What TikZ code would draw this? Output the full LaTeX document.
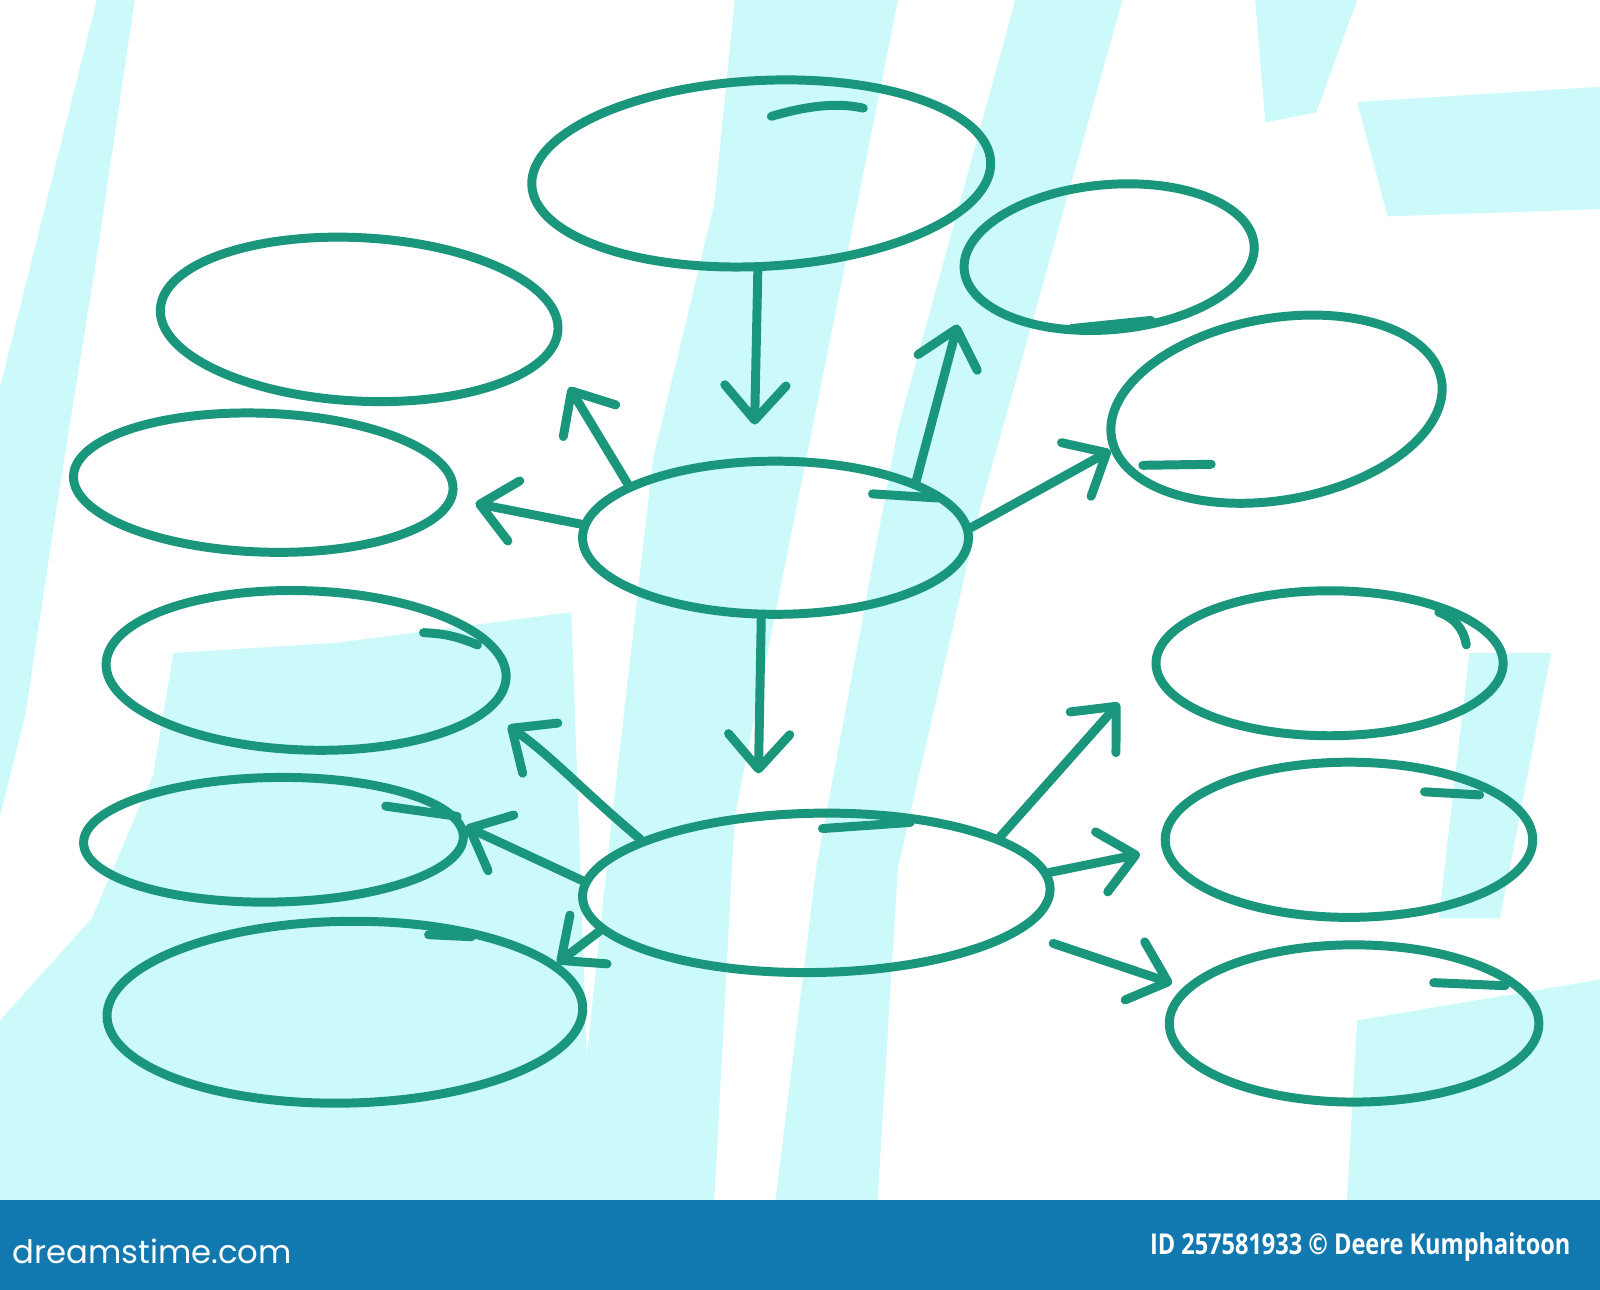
\documentclass[tikz,border=0pt]{standalone}
\usepackage{fontspec}
\usetikzlibrary{shapes.geometric, arrows.meta}
\newfontfamily\logofont{Poppins}
\newfontfamily\idfont[FakeStretch=0.82]{Open Sans}

\definecolor{penteal}{RGB}{26,150,125}
\definecolor{washcyan}{RGB}{204,250,250}
\definecolor{bannerblue}{RGB}{17,120,176}

\tikzset{
    bubble/.style={draw=penteal, line width=2.5pt, ellipse, inner sep=0pt},
    link/.style={draw=penteal, line width=2.5pt, line cap=round, line join=round,
        -{Straight Barb[length=3.4mm, width=6mm, round]}},
    tail/.style={draw=penteal, line width=2.5pt, line cap=round},
}

\begin{document}
\begin{tikzpicture}[x=0.01cm, y=-0.01cm]
    \useasboundingbox (0,0) rectangle (1568,1264);
    \fill[white] (0,0) rectangle (1568,1264);

    % brush washes behind the map
    \fill[washcyan] (95,0) -- (132,0) -- (95,250) -- (55,500) -- (25,700) -- (0,800) -- (0,380) -- cycle;
    \fill[washcyan] (170,640) -- (330,630) -- (560,600) -- (580,1176) -- (0,1176) -- (0,1000) -- (90,900) -- (150,760) -- cycle;
    \fill[washcyan] (720,0) -- (880,0) -- (800,400) -- (720,800) -- (700,1176) -- (560,1176) -- (600,800) -- (640,450) -- (700,200) -- cycle;
    \fill[washcyan] (995,0) -- (1100,0) -- (960,500) -- (880,850) -- (860,1176) -- (760,1176) -- (800,850) -- (880,420) -- cycle;
    \fill[washcyan] (1230,0) -- (1330,0) -- (1290,110) -- (1240,120) -- cycle;
    \fill[washcyan] (1330,100) -- (1568,85) -- (1568,205) -- (1360,212) -- cycle;
    \fill[washcyan] (1440,640) -- (1520,640) -- (1470,900) -- (1410,900) -- cycle;
    \fill[washcyan] (1330,1000) -- (1568,960) -- (1568,1176) -- (1320,1176) -- cycle;

    % ellipses
    \node[bubble, minimum width=4.5cm, minimum height=1.82cm, rotate=3] (root) at (746,170) {};
    \node[bubble, minimum width=3.9cm, minimum height=1.6cm, rotate=-3] (nw1) at (352,313) {};
    \node[bubble, minimum width=3.72cm, minimum height=1.36cm, rotate=-2] (nw2) at (258,473) {};
    \node[bubble, minimum width=2.85cm, minimum height=1.42cm, rotate=5] (ne1) at (1087,252) {};
    \node[bubble, minimum width=3.28cm, minimum height=1.78cm, rotate=10] (ne2) at (1251,401) {};
    \node[bubble, minimum width=3.78cm, minimum height=1.5cm] (hub) at (760,527) {};
    \node[bubble, minimum width=3.92cm, minimum height=1.56cm, rotate=-2] (sw1) at (300,657) {};
    \node[bubble, minimum width=3.72cm, minimum height=1.22cm, rotate=1] (sw2) at (268,823) {};
    \node[bubble, minimum width=4.66cm, minimum height=1.78cm, rotate=1] (sw3) at (338,992) {};
    \node[bubble, minimum width=4.58cm, minimum height=1.56cm, rotate=1] (lower) at (800,875) {};
    \node[bubble, minimum width=3.4cm, minimum height=1.42cm] (se1) at (1303,650) {};
    \node[bubble, minimum width=3.6cm, minimum height=1.52cm] (se2) at (1322,823) {};
    \node[bubble, minimum width=3.62cm, minimum height=1.54cm] (se3) at (1327,1003) {};

    % pen overlaps where each loop was closed
    \draw[tail] (756,114) .. controls (790,104) and (820,100) .. (846,106);
    \draw[tail] (1050,322) -- (1128,314);
    \draw[tail] (1120,456) -- (1187,455);
    \draw[tail] (855,484) -- (918,488);
    \draw[tail] (415,620) to[bend left=10] (468,632);
    \draw[tail] (1410,600) to[bend left=30] (1437,632);
    \draw[tail] (378,790) -- (448,800);
    \draw[tail] (806,812) -- (892,806);
    \draw[tail] (1396,776) -- (1450,779);
    \draw[tail] (420,916) -- (462,918);
    \draw[tail] (1405,963) -- (1475,966);

    % arrows
    \draw[link, shorten >=0.32cm] (root.-95) -- (hub.105);
    \draw[link, shorten >=0.35cm] (hub.160) -- (nw1.-8);
    \draw[link, shorten >=0.2cm] (hub.176) -- (nw2.-3);
    \draw[link, shorten >=0.35cm] (hub.22) -- (ne1.188);
    \draw[link] (hub.3) -- (ne2.184);
    \draw[link, shorten >=0.38cm] (hub.-100) -- (lower.125);
    \draw[link, shorten >=0.22cm] (lower.162) to[out=140, in=-35] (sw1.-11);
    \draw[link] (lower.176) -- (sw2.3);
    \draw[link] (lower.189) -- (sw3.12);
    \draw[link, shorten >=0.48cm] (lower.16) -- (se1.181);
    \draw[link, shorten >=0.22cm] (lower.4) -- (se2.183);
    \draw[link, shorten <=0.33cm, shorten >=0.12cm] (lower.-12) -- (se3.168);

    % banner
    \fill[bannerblue] (0,1176) rectangle (1568,1264);
    \node[text=white, font=\logofont\fontsize{9}{11}\selectfont] (site) at (149,1226) {dreamstime.com};
    \node[text=white, font=\idfont\bfseries\fontsize{8}{10}\selectfont] (credit) at (1333,1222) {ID 257581933 © Deere Kumphaitoon};
\end{tikzpicture}
\end{document}
